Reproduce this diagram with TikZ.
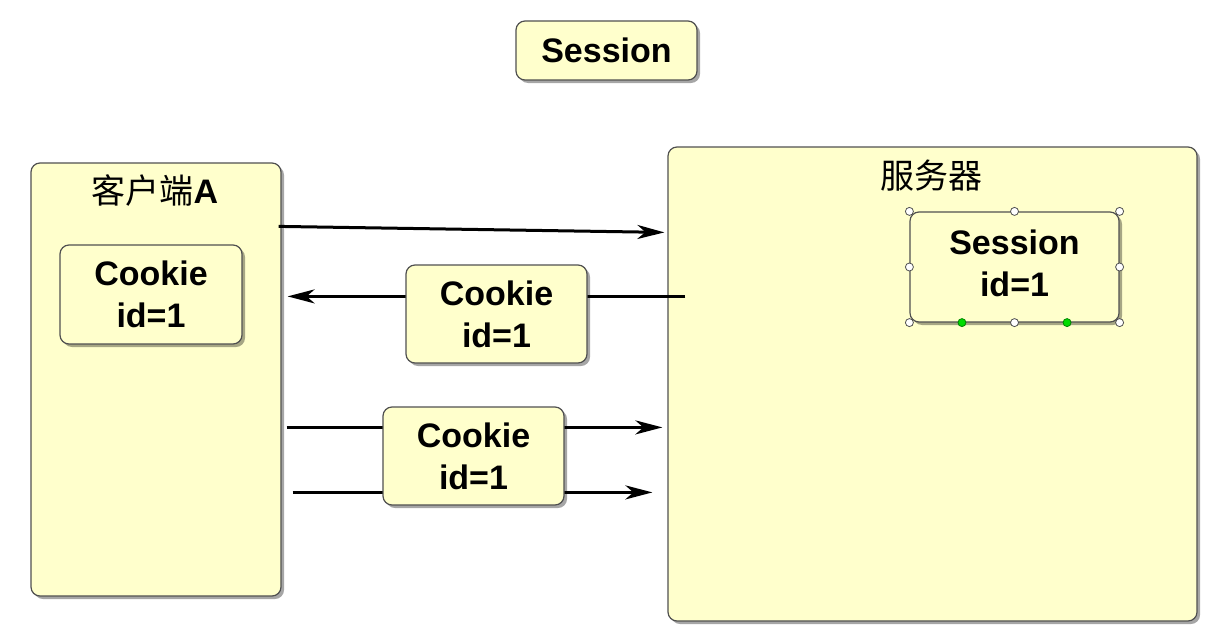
\documentclass[tikz,border=0pt]{standalone}
\usepackage{fontspec}
\setmainfont{Liberation Sans}
\newfontfamily\cjk{Noto Sans CJK SC}
\usetikzlibrary{shadows,calc,arrows.meta}
\definecolor{boxfill}{RGB}{255,255,204}
\definecolor{boxline}{RGB}{80,80,80}
\definecolor{handlegreen}{RGB}{0,220,0}
\tikzset{
  box/.style={draw=boxline, line width=1.2pt, fill=boxfill, rounded corners=9pt,
    inner sep=0pt, align=center,
    drop shadow={shadow xshift=3pt, shadow yshift=-3pt, fill=black, opacity=0.35},
    font=\bfseries\fontsize{34}{42}\selectfont},
  bigbox/.style={box},
  title/.style={inner sep=0pt, font=\fontsize{34}{40}\selectfont},
  flow/.style={line width=3pt, -{Stealth[length=27pt,width=14pt,inset=8pt]}},
  handle/.style={circle, draw=boxline, fill=white, line width=0.8pt, inner sep=0pt, minimum size=8pt},
  ghandle/.style={handle, fill=handlegreen, draw=handlegreen!60!black}
}
\begin{document}
\begin{tikzpicture}[x=1pt,y=-1pt]
\useasboundingbox[fill=white] (0,0) rectangle (1225,634);
% top session label
\node[box, minimum width=181pt, minimum height=59pt] (stop) at (606.5,50.5) {Session};
% client
\node[bigbox, minimum width=250pt, minimum height=433pt] (client) at (156,379.5) {};
\node[title] (ctitle) at (155,191) {{\cjk 客户端}\textbf{A}};
\node[box, minimum width=182pt, minimum height=99pt] (ccookie) at (151,294.5) {Cookie\\id=1};
% server
\node[bigbox, minimum width=529pt, minimum height=474pt] (server) at (932.5,384) {};
\node[title] (stitle) at (931,176) {\cjk 服务器};
\node[box, minimum width=209pt, minimum height=110pt] (ses) at (1014.5,267)
  {\raisebox{5pt}{\begin{tabular}{@{}c@{}}Session\\id=1\end{tabular}}};
% selection handles
\foreach \a [count=\i] in {north west,north,north east,west,east,south west,south,south east}
  \node[handle] (h\i) at (ses.\a) {};
\node[ghandle] (g1) at ($(ses.south west)!0.25!(ses.south east)$) {};
\node[ghandle] (g2) at ($(ses.south west)!0.75!(ses.south east)$) {};
% arrows
\draw[flow] ($(client.north east)+(-3,64)$) -- ($(server.north west)+(-3,86)$);
\draw[flow] ($(server.north west)+(18,150)$) -- ($(client.north east)+(6,134)$);
\draw[flow] ($(client.north east)+(5,265)$) -- ($(server.north west)+(-5,281)$);
\draw[flow] ($(client.north east)+(11,330)$) -- ($(server.north west)+(-15,346)$);
% cookies in transit
\node[box, minimum width=181pt, minimum height=98pt] (mcookie1) at (496.5,314) {Cookie\\id=1};
\node[box, minimum width=181pt, minimum height=98pt] (mcookie2) at (473.5,456) {Cookie\\id=1};
\end{tikzpicture}
\end{document}
